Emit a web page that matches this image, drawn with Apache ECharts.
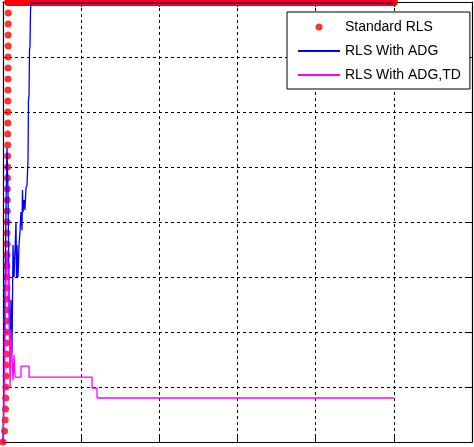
<!DOCTYPE html>
<html>
<head>
<meta charset="utf-8">
<script src="https://cdn.jsdelivr.net/npm/echarts@6/dist/echarts.min.js"></script>
<style>
  html, body { margin: 0; padding: 0; background: #fff; }
  #chart { width: 474px; height: 447px; }
</style>
</head>
<body>
<div id="chart"></div>
<script>
// Standard RLS: rising dots, then a dense run along the top
const rlsRiseX = [0, 0.020, 0.028, 0.032, 0.035, 0.037, 0.039, 0.041, 0.042, 0.043,
  0.044, 0.045, 0.046, 0.047, 0.048, 0.049, 0.050, 0.051, 0.052, 0.052,
  0.053, 0.054, 0.055, 0.056, 0.057, 0.058, 0.059, 0.060, 0.060, 0.061,
  0.062, 0.062, 0.063, 0.064, 0.064, 0.065, 0.066, 0.066, 0.067, 0.067, 0.068]
const rlsRiseY = [0, 0.2, 0.4, 0.6, 0.8, 1.0, 1.2, 1.4, 1.6, 1.8,
  2.0, 2.2, 2.4, 2.6, 2.8, 3.0, 3.2, 3.4, 3.6, 3.8,
  4.0, 4.2, 4.4, 4.6, 4.8, 5.0, 5.2, 5.4, 5.6, 5.8,
  6.0, 6.2, 6.4, 6.6, 6.8, 7.0, 7.2, 7.4, 7.6, 7.8, 8.0]
const rlsHoldX = [0.068, 5.0]
const rlsHoldY = [8.0, 8.0]

// RLS With ADG
const adgX = [0, 0.013, 0.026, 0.038, 0.051, 0.064, 0.077, 0.090, 0.102, 0.115,
  0.128, 0.141, 0.154, 0.166, 0.173, 0.179, 0.192, 0.205, 0.217, 0.230,
  0.243, 0.249, 0.256, 0.269, 0.281, 0.294, 0.307, 0.320, 0.326, 0.333,
  0.339, 0.345, 0.352, 0.358, 5.0]
const adgY = [0, 1.13, 2.76, 4.22, 5.35, 4.58, 2.58, 1.55, 2.58, 1.62,
  3.58, 3.00, 3.49, 4.00, 3.00, 3.58, 3.00, 3.58, 3.82, 4.18,
  3.85, 4.58, 4.18, 4.40, 4.22, 4.62, 4.67, 5.13, 6.22, 6.31,
  7.13, 7.18, 7.85, 7.98, 7.98]

// RLS With ADG,TD
const adgTdX = [0, 0.013, 0.026, 0.038, 0.051, 0.064, 0.077, 0.090, 0.102, 0.115,
  0.128, 0.141, 0.154, 0.230, 0.230, 0.333, 0.333, 1.139, 1.139, 1.203,
  1.203, 5.0]
const adgTdY = [0, 0.76, 2.04, 2.95, 3.49, 3.13, 2.40, 0.98, 2.04, 1.58,
  1.13, 1.58, 1.18, 1.18, 1.38, 1.38, 1.18, 1.18, 0.98, 0.98,
  0.80, 0.80]

const legendNames = ['Standard RLS', 'RLS With ADG', 'RLS With ADG,TD']

const pairs = (xs, ys) => xs.map((x, i) => [x, ys[i]])

const chart = echarts.init(document.getElementById('chart'))

const gridLine = { show: true, lineStyle: { color: '#000', type: [3, 3], width: 1 } }
const tick = { show: true, inside: true, length: 5, lineStyle: { color: '#000' } }
const axisLine = { show: true, onZero: false, lineStyle: { color: '#000', width: 1.2 } }

chart.setOption({
  animation: false,
  backgroundColor: '#fff',
  grid: { left: 3, right: 2, top: 2, bottom: 5, containLabel: false },
  xAxis: [
    { type: 'value', min: 0, max: 6, interval: 1, axisLine, axisTick: tick,
      axisLabel: { show: false }, splitLine: gridLine },
    { type: 'value', position: 'top', min: 0, max: 6, interval: 1, axisLine, axisTick: tick,
      axisLabel: { show: false }, splitLine: { show: false } }
  ],
  yAxis: [
    { type: 'value', min: 0, max: 8, interval: 1, axisLine, axisTick: tick,
      axisLabel: { show: false }, splitLine: gridLine },
    { type: 'value', position: 'right', min: 0, max: 8, interval: 1, axisLine, axisTick: tick,
      axisLabel: { show: false }, splitLine: { show: false } }
  ],
  legend: {
    // line entries show only their line, no marker
    data: [
      { name: legendNames[0] },
      { name: legendNames[1], itemStyle: { opacity: 0 } },
      { name: legendNames[2], itemStyle: { opacity: 0 } }
    ],
    orient: 'vertical',
    left: 287,
    top: 12,
    padding: [8, 9, 7, 10],
    itemWidth: 42,
    itemHeight: 7,
    itemGap: 10,
    backgroundColor: '#fff',
    borderColor: '#000',
    borderWidth: 1,
    borderRadius: 0,
    textStyle: { fontFamily: 'Liberation Sans', fontSize: 14, color: '#000' }
  },
  series: [
    {
      name: 'rls-hold',
      type: 'line',
      data: pairs(rlsHoldX, rlsHoldY),
      symbol: 'none',
      lineStyle: { color: '#ff0000', width: 8, cap: 'round' },
      clip: false,
      silent: true
    },
    {
      name: 'Standard RLS',
      type: 'scatter',
      data: pairs(rlsRiseX, rlsRiseY),
      symbol: 'circle',
      symbolSize: 7,
      itemStyle: { color: '#ff0000' },
      clip: false
    },
    {
      name: 'RLS With ADG',
      type: 'line',
      data: pairs(adgX, adgY),
      symbol: 'none',
      lineStyle: { color: '#0000ff', width: 1.3 },
      itemStyle: { color: '#0000ff' }
    },
    {
      name: 'RLS With ADG,TD',
      type: 'line',
      data: pairs(adgTdX, adgTdY),
      symbol: 'none',
      lineStyle: { color: '#ff00ff', width: 1.3 },
      itemStyle: { color: '#ff00ff' }
    }
  ]
})
</script>
</body>
</html>
